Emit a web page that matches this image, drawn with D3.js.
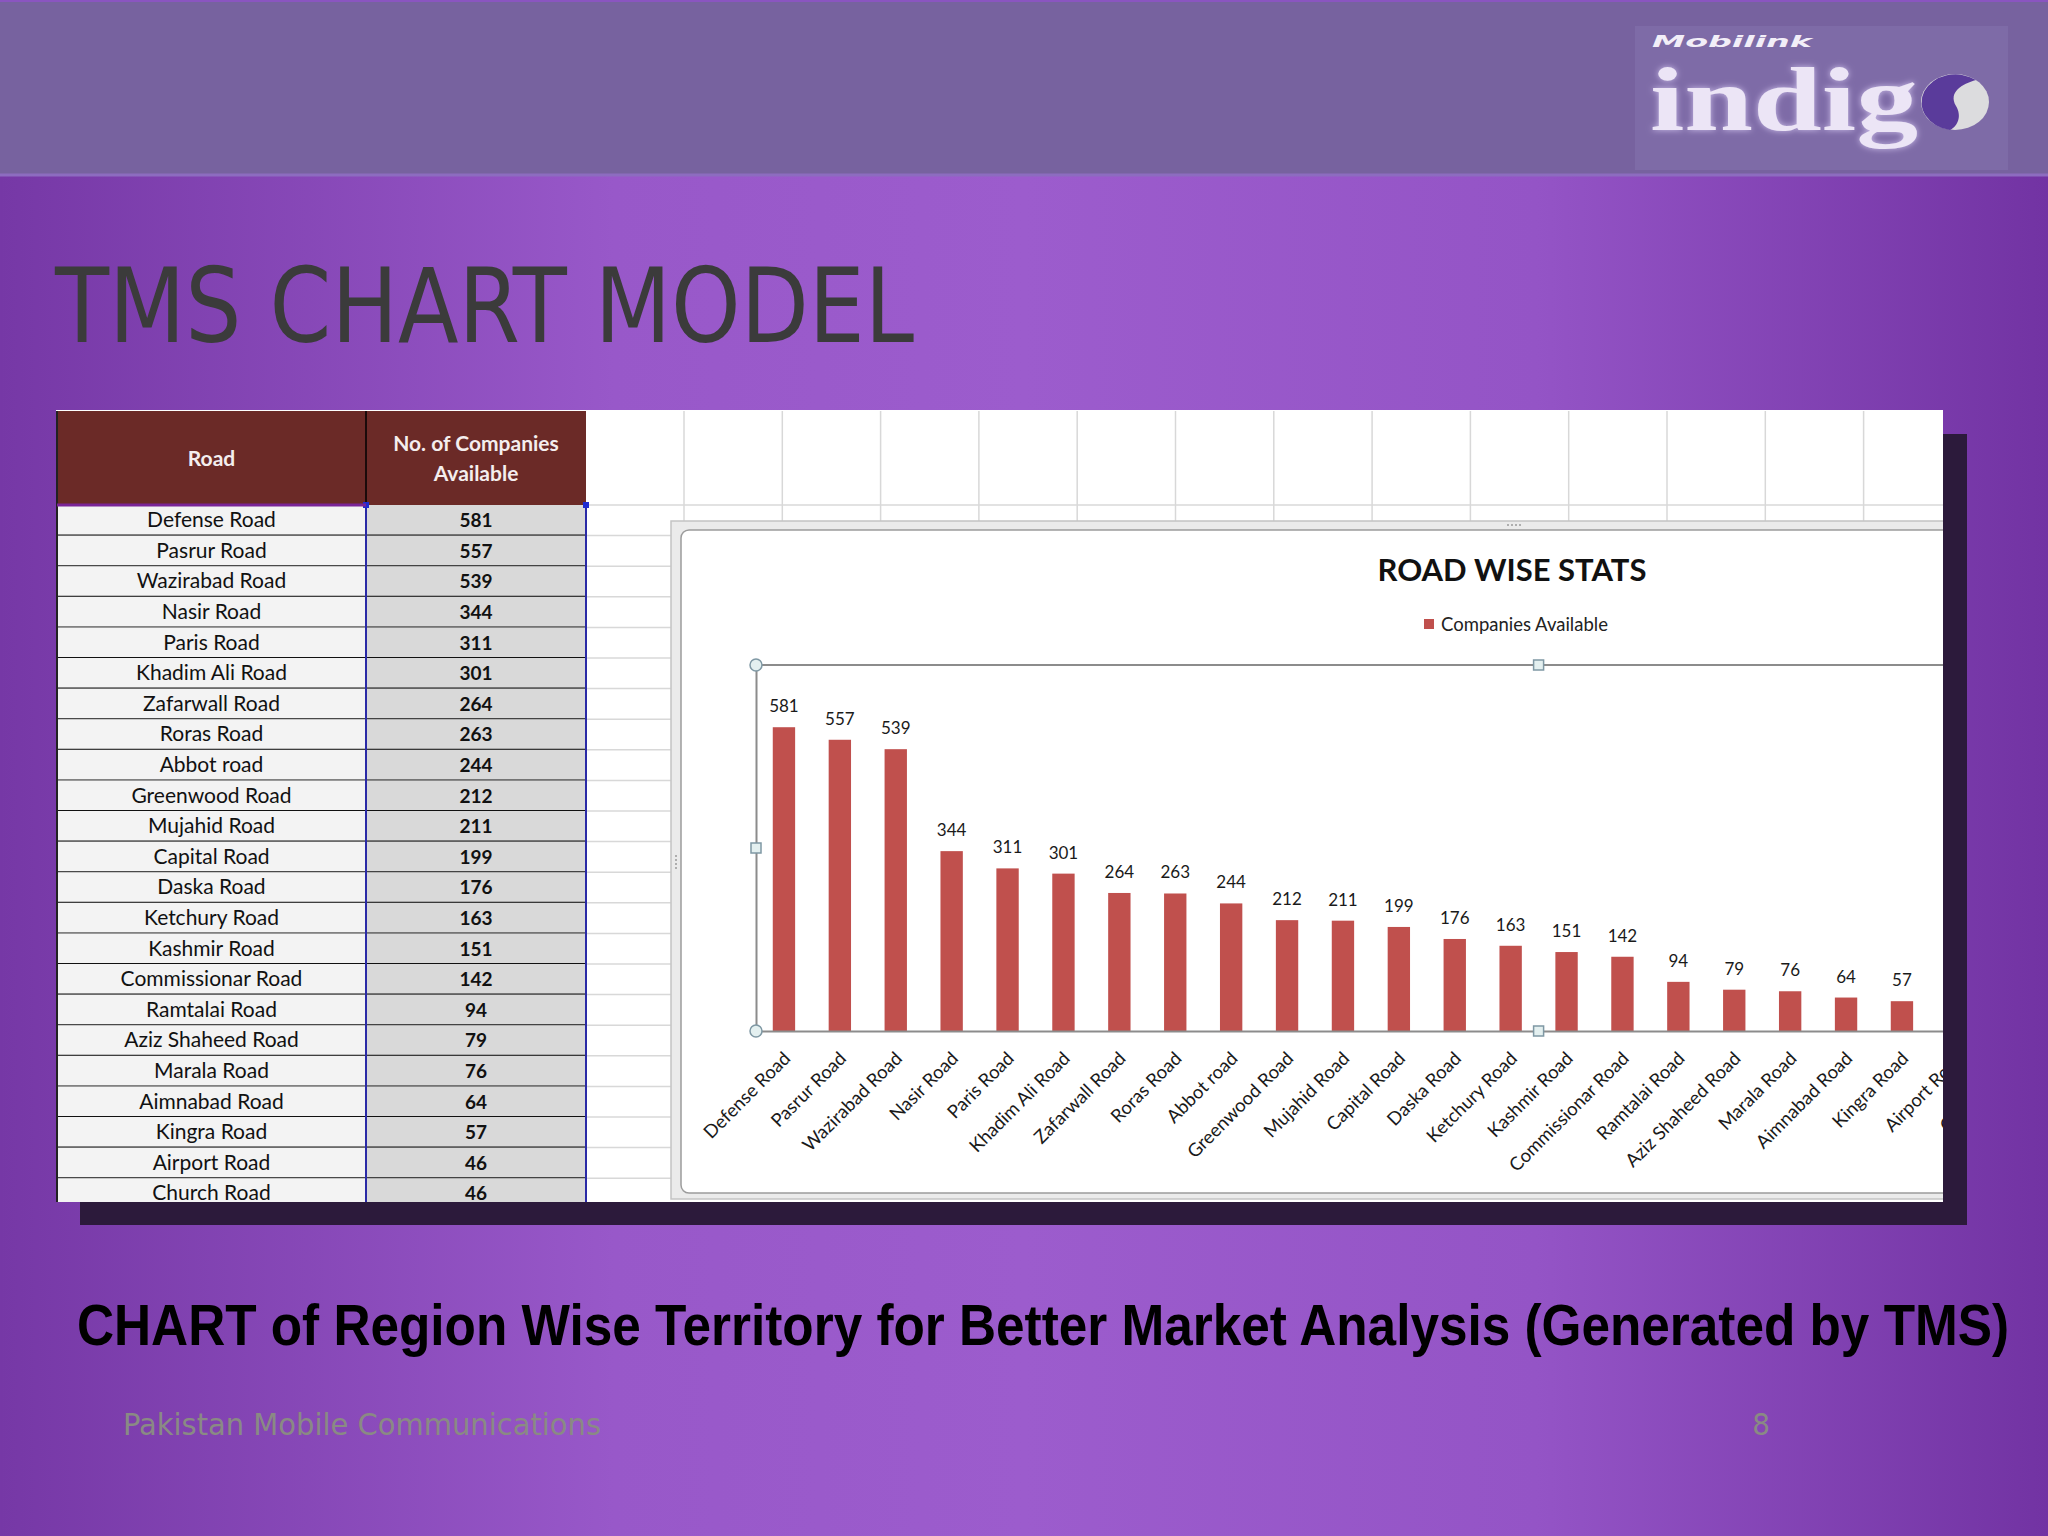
<!DOCTYPE html>
<html>
<head>
<meta charset="utf-8">
<script src="https://cdn.jsdelivr.net/npm/d3@7"></script>
<style>
  html, body { margin: 0; padding: 0; background: #8a4cba; }
  svg { display: block; }
</style>
</head>
<body>
<div id="slide"></div>
<script>
// data (table + chart show the same numbers)
const roads = ["Defense Road", "Pasrur Road", "Wazirabad Road", "Nasir Road", "Paris Road",
  "Khadim Ali Road", "Zafarwall Road", "Roras Road", "Abbot road", "Greenwood Road",
  "Mujahid Road", "Capital Road", "Daska Road", "Ketchury Road", "Kashmir Road",
  "Commissionar Road", "Ramtalai Road", "Aziz Shaheed Road", "Marala Road", "Aimnabad Road",
  "Kingra Road", "Airport Road", "Church Road"];
const companies = [581, 557, 539, 344, 311, 301, 264, 263, 244, 212, 211, 199, 176, 163, 151,
  142, 94, 79, 76, 64, 57, 46, 46];
const headerLines = [["Road"], ["No. of Companies", "Available"]];
const chartTitle = "ROAD WISE STATS";
const seriesName = "Companies Available";
const slideTitle = "TMS CHART MODEL";
const caption = "CHART of Region Wise Territory for Better Market Analysis (Generated by TMS)";
const footerText = "Pakistan Mobile Communications";
const pageNumber = "8";

const W = 2048, H = 1536;
const barColor = "#c0504d";
const uiFont = "Lato, 'Open Sans', sans-serif";

const svg = d3.select("#slide").append("svg").attr("width", W).attr("height", H);
const defs = svg.append("defs");

// slide background
const bg = defs.append("linearGradient").attr("id", "bg").attr("x1", 0).attr("x2", 1).attr("y1", 0).attr("y2", 0);
[[0, "#7638a6"], [0.3, "#9858c9"], [0.5, "#9c5ccd"], [0.75, "#9454c6"], [1, "#7233a3"]]
  .forEach(s => bg.append("stop").attr("offset", s[0]).attr("stop-color", s[1]));
svg.append("rect").attr("width", W).attr("height", H).attr("fill", "url(#bg)");

// header band
svg.append("rect").attr("x", 0).attr("y", 0).attr("width", W).attr("height", 176).attr("fill", "#77629f");
svg.append("line").attr("x1", 0).attr("x2", W).attr("y1", 175).attr("y2", 175).attr("stroke", "#8d6cc0").attr("stroke-width", 3);
svg.append("line").attr("x1", 0).attr("x2", W).attr("y1", 1).attr("y2", 1).attr("stroke", "#8a55c0").attr("stroke-width", 2);

// logo
const glow = defs.append("filter").attr("id", "glow").attr("x", "-20%").attr("y", "-20%").attr("width", "140%").attr("height", "140%");
glow.append("feGaussianBlur").attr("in", "SourceAlpha").attr("stdDeviation", 3).attr("result", "b");
glow.append("feFlood").attr("flood-color", "#cdbfea").attr("result", "c");
glow.append("feComposite").attr("in", "c").attr("in2", "b").attr("operator", "in").attr("result", "g");
const gm = glow.append("feMerge");
gm.append("feMergeNode").attr("in", "g");
gm.append("feMergeNode").attr("in", "SourceGraphic");

const logo = svg.append("g");
logo.append("rect").attr("x", 1635).attr("y", 26).attr("width", 373).attr("height", 144).attr("fill", "#7e6ba7");
logo.append("text").attr("x", 1652).attr("y", 47)
  .attr("font-family", "'DejaVu Sans', sans-serif").attr("font-weight", "bold").attr("font-style", "italic")
  .attr("font-size", 15).attr("fill", "#f2eef8")
  .attr("textLength", 160).attr("lengthAdjust", "spacingAndGlyphs").text("Mobilink");
logo.append("text").attr("x", 1650).attr("y", 130)
  .attr("font-family", "'Liberation Serif', 'DejaVu Serif', serif").attr("font-weight", "bold")
  .attr("font-size", 92).attr("fill", "#ece5f6").attr("filter", "url(#glow)")
  .attr("textLength", 268).attr("lengthAdjust", "spacingAndGlyphs").text("indig");
logo.append("ellipse").attr("cx", 1955).attr("cy", 102).attr("rx", 34).attr("ry", 28).attr("fill", "#dcdcde");
logo.append("path")
  .attr("d", "M1950,130 A34,28 0 1 1 1976,80 C1962,84 1948,92 1956,106 C1962,116 1958,126 1950,130 Z")
  .attr("fill", "#5a3b9b");

// slide title
svg.append("text").attr("x", 55).attr("y", 342)
  .attr("font-family", "'DejaVu Sans Condensed', 'DejaVu Sans', sans-serif").attr("font-stretch", "condensed")
  .attr("font-size", 104).attr("fill", "#3b3b3b")
  .attr("textLength", 859).attr("lengthAdjust", "spacingAndGlyphs").text(slideTitle);

// drop shadow of the screenshot
svg.append("rect").attr("x", 80).attr("y", 434).attr("width", 1887).attr("height", 791).attr("fill", "#2c1a3b");

// spreadsheet screenshot panel
const panel = { x: 56, y: 410, w: 1887, h: 792 };
defs.append("clipPath").attr("id", "panelClip").append("rect")
  .attr("x", panel.x).attr("y", panel.y).attr("width", panel.w).attr("height", panel.h);
const sheet = svg.append("g").attr("clip-path", "url(#panelClip)");
sheet.append("rect").attr("x", panel.x).attr("y", panel.y).attr("width", panel.w).attr("height", panel.h).attr("fill", "#ffffff");

// table geometry
const tbl = { left: 57, mid: 366, right: 586, headTop: 411, rowTop: 505, rowH: 30.6 };
const rowY = d3.scaleLinear().domain([0, 1]).range([tbl.rowTop, tbl.rowTop + tbl.rowH]);

// excel grid lines outside the table
const gridCols = d3.range(13).map(i => 684 + i * 98.3);
sheet.selectAll("line.gcol").data(gridCols).join("line").attr("class", "gcol")
  .attr("x1", d => d).attr("x2", d => d).attr("y1", tbl.headTop).attr("y2", 522)
  .attr("stroke", "#d8d8d8").attr("stroke-width", 1.5);
sheet.selectAll("line.grow").data(d3.range(roads.length + 1)).join("line").attr("class", "grow")
  .attr("x1", tbl.right).attr("x2", panel.x + panel.w).attr("y1", d => rowY(d)).attr("y2", d => rowY(d))
  .attr("stroke", "#d8d8d8").attr("stroke-width", 1.5);

// table header
sheet.append("rect").attr("x", tbl.left).attr("y", tbl.headTop).attr("width", tbl.right - tbl.left)
  .attr("height", tbl.rowTop - tbl.headTop).attr("fill", "#6b2a27");
sheet.append("line").attr("x1", tbl.mid).attr("x2", tbl.mid).attr("y1", tbl.headTop).attr("y2", tbl.rowTop)
  .attr("stroke", "#1a0a0a").attr("stroke-width", 2);
const headCx = [(tbl.left + tbl.mid) / 2, (tbl.mid + tbl.right) / 2];
headerLines.forEach((lines, i) => {
  lines.forEach((t, j) => {
    sheet.append("text").attr("x", headCx[i])
      .attr("y", lines.length === 1 ? 466 : 451 + j * 30)
      .attr("text-anchor", "middle").attr("font-family", uiFont).attr("font-weight", "bold")
      .attr("font-size", 21).attr("fill", "#f4eeee").text(t);
  });
});

// table rows
const rows = sheet.selectAll("g.row").data(roads).join("g").attr("class", "row")
  .attr("transform", (d, i) => `translate(0,${rowY(i)})`);
rows.append("rect").attr("x", tbl.left).attr("width", tbl.mid - tbl.left).attr("height", tbl.rowH).attr("fill", "#f3f3f3");
rows.append("rect").attr("x", tbl.mid).attr("width", tbl.right - tbl.mid).attr("height", tbl.rowH).attr("fill", "#d9d9d9");
rows.append("line").attr("x1", tbl.left).attr("x2", tbl.right).attr("y1", tbl.rowH).attr("y2", tbl.rowH)
  .attr("stroke", "#111").attr("stroke-width", 2);
rows.append("text").attr("x", headCx[0]).attr("y", tbl.rowH / 2 + 7).attr("text-anchor", "middle")
  .attr("font-family", uiFont).attr("font-size", 21).attr("fill", "#111").text(d => d);
rows.append("text").attr("x", headCx[1]).attr("y", tbl.rowH / 2 + 7).attr("text-anchor", "middle")
  .attr("font-family", uiFont).attr("font-weight", "bold").attr("font-size", 19).attr("fill", "#111")
  .text((d, i) => companies[i]);
sheet.append("line").attr("x1", tbl.left).attr("x2", tbl.left).attr("y1", tbl.headTop).attr("y2", 1202)
  .attr("stroke", "#222").attr("stroke-width", 2);
// selection outline on the value column
[tbl.mid, tbl.right].forEach(x => {
  sheet.append("line").attr("x1", x).attr("x2", x).attr("y1", tbl.rowTop).attr("y2", 1202)
    .attr("stroke", "#2a2aa6").attr("stroke-width", 2);
  sheet.append("rect").attr("x", x - 3).attr("y", tbl.rowTop - 3).attr("width", 6).attr("height", 6).attr("fill", "#1f2bd0");
});
sheet.append("line").attr("x1", tbl.left).attr("x2", tbl.mid).attr("y1", tbl.rowTop).attr("y2", tbl.rowTop)
  .attr("stroke", "#7a2496").attr("stroke-width", 3);

// chart object
sheet.append("rect").attr("x", 671).attr("y", 521).attr("width", 1400).attr("height", 678)
  .attr("fill", "#ebebeb").attr("stroke", "#c4c4c4").attr("stroke-width", 1.5);
sheet.append("rect").attr("x", 681).attr("y", 530).attr("width", 1400).attr("height", 663).attr("rx", 8)
  .attr("fill", "#ffffff").attr("stroke", "#9c9c9c").attr("stroke-width", 1.5);
sheet.selectAll("circle.hdots").data(d3.range(4)).join("circle").attr("class", "hdots")
  .attr("cx", d => 1508 + d * 4).attr("cy", 525).attr("r", 1).attr("fill", "#9a9a9a");
sheet.selectAll("circle.vdots").data(d3.range(4)).join("circle").attr("class", "vdots")
  .attr("cx", 676).attr("cy", d => 856 + d * 4).attr("r", 1).attr("fill", "#9a9a9a");

sheet.append("text").attr("x", 1512).attr("y", 581).attr("text-anchor", "middle")
  .attr("font-family", uiFont).attr("font-weight", "bold").attr("font-size", 31).attr("fill", "#111")
  .text(chartTitle);

// legend
sheet.append("rect").attr("x", 1424).attr("y", 619).attr("width", 10).attr("height", 10).attr("fill", barColor);
sheet.append("text").attr("x", 1441).attr("y", 631).attr("font-family", uiFont).attr("font-size", 18.5)
  .attr("fill", "#222").text(seriesName);

// plot area
const plot = { left: 756, top: 665, bottom: 1031, step: 55.9 };
const x = d3.scaleBand().domain(roads)
  .range([plot.left, plot.left + plot.step * roads.length])
  .paddingInner(0.6).paddingOuter(0.3);
const y = d3.scaleLinear().domain([0, 700]).range([plot.bottom, plot.top]);

sheet.append("line").attr("x1", plot.left).attr("x2", panel.x + panel.w).attr("y1", plot.top).attr("y2", plot.top)
  .attr("stroke", "#8c8c8c").attr("stroke-width", 2);

sheet.selectAll("rect.bar").data(companies).join("rect").attr("class", "bar")
  .attr("x", (d, i) => x(roads[i])).attr("width", x.bandwidth())
  .attr("y", d => y(d)).attr("height", d => y(0) - y(d)).attr("fill", barColor);

sheet.selectAll("text.val").data(companies).join("text").attr("class", "val")
  .attr("x", (d, i) => x(roads[i]) + x.bandwidth() / 2).attr("y", d => y(d) - 15)
  .attr("text-anchor", "middle").attr("font-family", uiFont).attr("font-size", 17).attr("fill", "#1a1a1a")
  .text(d => d);

const yAxis = sheet.append("g").attr("transform", `translate(${plot.left},0)`)
  .call(d3.axisLeft(y).tickValues([]).tickSizeOuter(0));
yAxis.select(".domain").attr("stroke", "#8c8c8c").attr("stroke-width", 2);

const xAxis = sheet.append("g").attr("transform", `translate(0,${plot.bottom})`)
  .call(d3.axisBottom(x).tickSize(0).tickSizeOuter(0));
xAxis.select(".domain").attr("stroke", "#8c8c8c").attr("stroke-width", 2);
xAxis.selectAll(".tick text")
  .attr("x", 0).attr("y", 0).attr("dy", "0.35em")
  .attr("transform", "translate(3,24) rotate(-45)")
  .attr("text-anchor", "end").attr("font-family", uiFont).attr("font-size", 18.5).attr("fill", "#1a1a1a");

// plot area selection handles
const midX = plot.left + plot.step * 14;
[[plot.left, plot.top], [plot.left, plot.bottom]].forEach(p => {
  sheet.append("circle").attr("cx", p[0]).attr("cy", p[1]).attr("r", 6)
    .attr("fill", "#e4f0f0").attr("stroke", "#7f98a4").attr("stroke-width", 1.5);
});
[[plot.left, (plot.top + plot.bottom) / 2], [midX, plot.top], [midX, plot.bottom]].forEach(p => {
  sheet.append("rect").attr("x", p[0] - 5).attr("y", p[1] - 5).attr("width", 10).attr("height", 10)
    .attr("fill", "#e4f0f0").attr("stroke", "#7f98a4").attr("stroke-width", 1.5);
});

// caption
svg.append("text").attr("x", 77).attr("y", 1345)
  .attr("font-family", "'Liberation Sans', Arial, sans-serif").attr("font-weight", "bold")
  .attr("font-size", 57).attr("fill", "#000")
  .attr("textLength", 1932).attr("lengthAdjust", "spacingAndGlyphs").text(caption);

// footer
svg.append("text").attr("x", 123).attr("y", 1435)
  .attr("font-family", "'DejaVu Sans Condensed', 'DejaVu Sans', sans-serif").attr("font-stretch", "condensed")
  .attr("font-size", 31).attr("fill", "#8a8a84")
  .attr("textLength", 478).attr("lengthAdjust", "spacingAndGlyphs").text(footerText);
svg.append("text").attr("x", 1761).attr("y", 1435).attr("text-anchor", "middle")
  .attr("font-family", "'DejaVu Sans Condensed', 'DejaVu Sans', sans-serif").attr("font-stretch", "condensed")
  .attr("font-size", 31).attr("fill", "#8a8a84").text(pageNumber);
</script>
</body>
</html>
